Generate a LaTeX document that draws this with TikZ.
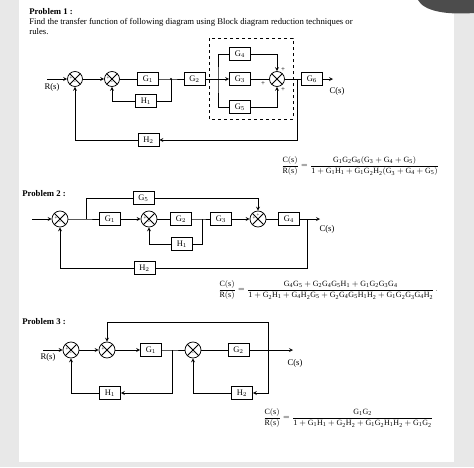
\documentclass[tikz,border=0pt]{standalone}
\usepackage{amsmath}
\usepackage{fontspec}
\setmainfont{Liberation Serif}
\usepackage{tikz}
\usetikzlibrary{positioning}
\usetikzlibrary{shapes,arrows}

\tikzset{
	block/.style={draw, minimum width=21pt, minimum height=13pt, inner sep=0pt, font=\fontsize{8.5}{9}\selectfont},
	sumj/.style={draw, circle, minimum size=15pt, inner sep=0pt,
		path picture={\draw (path picture bounding box.north west) -- (path picture bounding box.south east)
			(path picture bounding box.north east) -- (path picture bounding box.south west);}},
	sgn/.style={inner sep=0pt, font=\fontsize{5}{5}\selectfont},
	lbl/.style={inner sep=0pt, font=\fontsize{8.7}{9.5}\selectfont},
	eqn/.style={inner sep=0pt, font=\fontsize{8}{9}\selectfont},
}

\begin{document}
\begin{tikzpicture}[x=1pt, y=-1pt, line width=0.75pt, >=stealth]
		\useasboundingbox (0,0) rectangle (474,467);
		\fill[black!9] (0,0) rectangle (474,467);
		\fill[white] (19,0) rectangle (454,462);
		\fill[black!70] (418,0) .. controls (424,11) and (445,15) .. (474,13) -- (474,0) -- cycle;

		% problem 1
		\node[lbl, anchor=west] (t1) at (29,12) {\textbf{Problem 1 :}};
		\node[lbl, anchor=north west, align=left] (q1) at (29,18) {Find the transfer function of following diagram using Block diagram reduction techniques or\\rules.};
		\coordinate (r1) at (47,79);
		\node[sumj] (s11) at (75,79) {};
		\node[sumj] (s12) at (112,79) {};
		\node[block] (g1) at (148,79) {G$_1$};
		\coordinate (p11) at (171,79);
		\node[block] (g2) at (194.5,79) {G$_2$};
		\coordinate (p12) at (218,79);
		\node[block] (g4) at (240,54) {G$_4$};
		\node[block] (g3) at (240,79) {G$_3$};
		\node[block] (g5) at (240,107) {G$_5$};
		\node[sumj] (s13) at (277,79) {};
		\coordinate (p13) at (297,79);
		\node[block] (g6) at (312,79) {G$_6$};
		\coordinate (c1) at (333,79);
		\node[block] (h1) at (146,101) {H$_1$};
		\node[block] (h2) at (148.5,140) {H$_2$};
		\draw[dashed] (209,38) rectangle (293,119);

		\draw[->] (r1) -- (s11);
		\draw[->] (s11) -- (s12);
		\draw (s12) -- (g1);
		\draw (g1) -- (p11) -- (g2);
		\draw[->] (g2) -- (g3);
		\draw (g4) -| (p12) |- (g5);
		\draw[->] (g4) -| (s13);
		\draw[->] (g5) -| (s13);
		\draw (g3) -- (s13);
		\draw (s13) -- (g6);
		\draw[->] (g6) -- (c1);
		\draw (p11) |- (h1);
		\draw[->] (h1) -| (s12);
		\draw[->] (p13) |- (h2);
		\draw[->] (h2) -| (s11);
		\fill (p11) circle(1.2pt);

		\node[sgn] at ([shift={(-4,-1)}]s11.center) {+};
		\node[sgn] at ([shift={(0,4)}]s11.center) {-};
		\node[sgn] at ([shift={(-4,-1)}]s12.center) {+};
		\node[sgn] at ([shift={(0,4)}]s12.center) {-};
		\node[sgn, font=\fontsize{7}{7}\selectfont] at (283,70) {+};
		\node[sgn, font=\fontsize{7}{7}\selectfont] at (263,84) {+};
		\node[sgn, font=\fontsize{7}{7}\selectfont] at (283,90) {+};
		\node[lbl] (rs1) at (52,87) {R(s)};
		\node[lbl] (cs1) at (337,91) {C(s)};

		\node[eqn, anchor=west] (e1) at (281,166) {$\dfrac{\mathrm{C(s)}}{\mathrm{R(s)}}=\dfrac{\mathrm{G_1G_2G_6(G_3+G_4+G_5)}}{\mathrm{1+G_1H_1+G_1G_2H_2(G_3+G_4+G_5)}}$};

		% problem 2
		\node[lbl, anchor=west] (t2) at (22,194) {\textbf{Problem 2 :}};
		\coordinate (r2) at (32,219);
		\node[sumj, minimum size=16pt] (bs1) at (60,219) {};
		\coordinate (p21) at (86,219);
		\node[block] (bg5) at (143.5,198) {G$_5$};
		\node[block] (bg1) at (110,219) {G$_1$};
		\node[sumj, minimum size=16pt] (bs2) at (149,219) {};
		\node[block] (bg2) at (181,219) {G$_2$};
		\coordinate (p22) at (202,219);
		\node[block] (bg3) at (221,219) {G$_3$};
		\node[sumj, minimum size=16pt] (bs3) at (258,219) {};
		\node[block] (bg4) at (289,219) {G$_4$};
		\coordinate (p23) at (307,219);
		\coordinate (c2) at (320,219);
		\node[block] (bh1) at (182,244) {H$_1$};
		\node[block] (bh2) at (144.5,268) {H$_2$};

		\draw[->] (r2) -- (bs1);
		\draw (bs1) -- (p21) -- (bg1);
		\draw (p21) |- (bg5);
		\draw[->] (bg5) -| (bs3);
		\draw[->] (bg1) -- (bs2);
		\draw (bs2) -- (bg2);
		\draw (bg2) -- (p22) -- (bg3);
		\draw[->] (bg3) -- (bs3);
		\draw (bs3) -- (bg4);
		\draw[->] (bg4) -- (c2);
		\draw (p22) |- (bh1);
		\draw[->] (bh1) -| (bs2);
		\draw (p23) |- (bh2);
		\draw[->] (bh2) -| (bs1);

		\node[sgn] at ([shift={(-4,-1)}]bs1.center) {+};
		\node[sgn] at ([shift={(0,4)}]bs1.center) {-};
		\node[sgn] at ([shift={(-4,-1)}]bs2.center) {+};
		\node[sgn] at ([shift={(0,4)}]bs2.center) {-};
		\node[sgn] at ([shift={(-4,-1)}]bs3.center) {+};
		\node[sgn] at ([shift={(0,-4)}]bs3.center) {+};
		\node[lbl] (cs2) at (327,229) {C(s)};

		\node[eqn, anchor=west] (e2) at (218,290) {$\dfrac{\mathrm{C(s)}}{\mathrm{R(s)}}=\dfrac{\mathrm{G_4G_5+G_2G_4G_5H_1+G_1G_2G_3G_4}}{\mathrm{1+G_2H_1+G_4H_2G_5+G_2G_4G_5H_1H_2+G_1G_2G_3G_4H_2}}\,.$};

		% problem 3
		\node[lbl, anchor=west] (t3) at (22,322) {\textbf{Problem 3 :}};
		\coordinate (r3) at (43,350);
		\node[sumj, minimum size=16pt] (cs1) at (71,350) {};
		\node[sumj, minimum size=16pt] (cs2) at (107,350) {};
		\node[block] (cg1) at (151,350) {G$_1$};
		\coordinate (p31) at (172,350);
		\node[sumj, minimum size=16pt] (cs3) at (193,350) {};
		\node[block] (cg2) at (238.5,350) {G$_2$};
		\coordinate (p32) at (268,350);
		\coordinate (c3) at (293,350);
		\coordinate (t31) at (268,322);
		\node[block] (ch1) at (110,393) {H$_1$};
		\node[block] (ch2) at (242,393) {H$_2$};

		\draw[->] (r3) -- (cs1);
		\draw[->] (cs1) -- (cs2);
		\draw[->] (cs2) -- (cg1);
		\draw (cg1) -- (p31) -- (cs3);
		\draw (cs3) -- (cg2);
		\draw[->] (cg2) -- (c3);
		\draw[->] (p31) |- (ch1);
		\draw[->] (ch1) -| (cs1);
		\draw[->] (p32) -- (t31) -| (cs2);
		\draw[->] (p32) |- (ch2);
		\draw[->] (ch2) -| (cs3);

		\node[sgn] at ([shift={(-4,-1)}]cs1.center) {+};
		\node[sgn] at ([shift={(0,4)}]cs1.center) {-};
		\node[sgn] at ([shift={(-4,-1)}]cs2.center) {+};
		\node[sgn] at ([shift={(0,4)}]cs3.center) {-};
		\node[lbl] (rs3) at (48,357) {R(s)};
		\node[lbl] (cs3l) at (295,363) {C(s)};

		\node[eqn, anchor=west] (e3) at (263,418) {$\dfrac{\mathrm{C(s)}}{\mathrm{R(s)}}=\dfrac{\mathrm{G_1G_2}}{\mathrm{1+G_1H_1+G_2H_2+G_1G_2H_1H_2+G_1G_2}}$};
	\end{tikzpicture}
\end{document}
